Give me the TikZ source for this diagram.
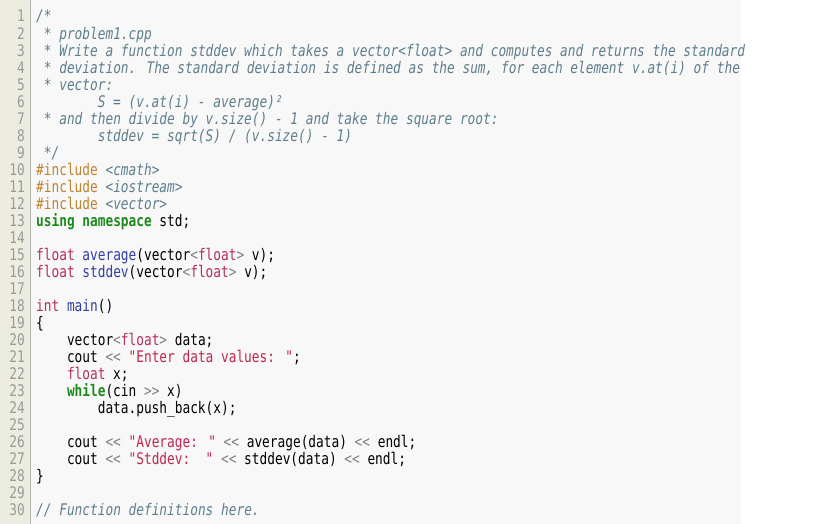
\documentclass[tikz,border=0pt]{standalone}
\usepackage{fontspec}
\newfontfamily\codef[FakeStretch=0.8]{DejaVu Sans Mono}
\definecolor{cmt}{HTML}{5E7E8C}
\definecolor{inc}{HTML}{C0822F}
\definecolor{kwg}{HTML}{1E8A1E}
\definecolor{typ}{HTML}{B3305A}
\definecolor{fun}{HTML}{2F3FA5}
\definecolor{str}{HTML}{C0284E}
\definecolor{opc}{HTML}{808080}
\definecolor{gut}{HTML}{ECECE0}
\definecolor{bgc}{HTML}{F8F8F8}
\newcommand\Cm[1]{{\color{cmt}\itshape #1}}
\newcommand\In[1]{{\color{inc}#1}}
\newcommand\Kw[1]{{\color{kwg}\bfseries #1}}
\newcommand\Ty[1]{{\color{typ}#1}}
\newcommand\Fn[1]{{\color{fun}#1}}
\newcommand\St[1]{{\color{str}#1}}
\newcommand\Op[1]{{\color{opc}#1}}
\newcommand\Hd[1]{{\color{cmt}\itshape #1}}
\newcommand\CodeLine[3]{\node[code] (l#1) at ({36+#2*7.7},{22+(#1-1)*17.03}) {#3};}
\begin{document}
\begin{tikzpicture}[x=1pt,y=-1pt,
  code/.style={anchor=base west,inner sep=0pt,font=\codef\fontsize{16}{17}\selectfont},
  num/.style={anchor=base east,inner sep=0pt,text=opc!80,font=\codef\fontsize{16}{17}\selectfont}]
\useasboundingbox (0,0) rectangle (822,524);
\fill[white] (0,0) rectangle (822,524);
\fill[bgc] (0,0) rectangle (741,524);
\fill[gut] (0,0) rectangle (30,524);
\draw[gray!60,line width=0.8pt] (30.5,0) -- (30.5,524);
\foreach \n in {1,...,30} {\node[num] (n\n) at (25,{22+(\n-1)*17.03}) {\n};}
\CodeLine{1}{0}{\Cm{/*}}
\CodeLine{2}{1}{\Cm{* problem1.cpp}}
\CodeLine{3}{1}{\Cm{* Write a function stddev which takes a vector<float> and computes and returns the standard}}
\CodeLine{4}{1}{\Cm{* deviation. The standard deviation is defined as the sum, for each element v.at(i) of the}}
\CodeLine{5}{1}{\Cm{* vector:}}
\CodeLine{6}{8}{\Cm{S = (v.at(i) - average)²}}
\CodeLine{7}{1}{\Cm{* and then divide by v.size() - 1 and take the square root:}}
\CodeLine{8}{8}{\Cm{stddev = sqrt(S) / (v.size() - 1)}}
\CodeLine{9}{1}{\Cm{*/}}
\CodeLine{10}{0}{\In{\#include} \Hd{<cmath>}}
\CodeLine{11}{0}{\In{\#include} \Hd{<iostream>}}
\CodeLine{12}{0}{\In{\#include} \Hd{<vector>}}
\CodeLine{13}{0}{\Kw{using namespace} std;}
\CodeLine{15}{0}{\Ty{float} \Fn{average}(vector\Op{<}\Ty{float}\Op{>} v);}
\CodeLine{16}{0}{\Ty{float} \Fn{stddev}(vector\Op{<}\Ty{float}\Op{>} v);}
\CodeLine{18}{0}{\Ty{int} \Fn{main}()}
\CodeLine{19}{0}{\{}
\CodeLine{20}{4}{vector\Op{<}\Ty{float}\Op{>} data;}
\CodeLine{21}{4}{cout \Op{<<} \St{"Enter data values: "};}
\CodeLine{22}{4}{\Ty{float} x;}
\CodeLine{23}{4}{\Kw{while}(cin \Op{>>} x)}
\CodeLine{24}{8}{data.push\_back(x);}
\CodeLine{26}{4}{cout \Op{<<} \St{"Average: "} \Op{<<} average(data) \Op{<<} endl;}
\CodeLine{27}{4}{cout \Op{<<} \St{"Stddev:\ \ "} \Op{<<} stddev(data) \Op{<<} endl;}
\CodeLine{28}{0}{\}}
\CodeLine{30}{0}{\Cm{// Function definitions here.}}
\end{tikzpicture}
\end{document}
